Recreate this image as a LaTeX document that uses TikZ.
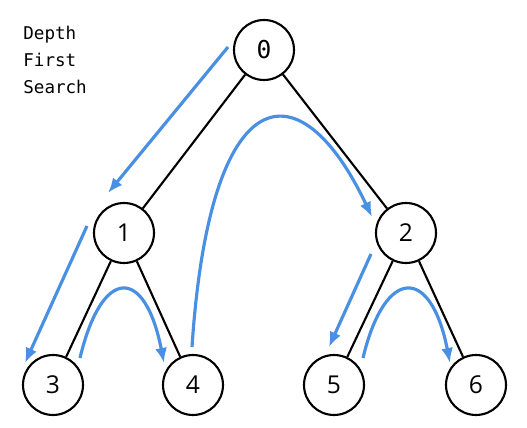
\documentclass[tikz,border=0pt]{standalone}
\usepackage{fontspec}
\setsansfont{Open Sans}
\setmonofont{DejaVu Sans Mono}
\usetikzlibrary{arrows.meta}
\definecolor{walkblue}{RGB}{74,144,226}
\tikzset{
  vertex/.style={circle, draw, line width=1.2pt, minimum size=1.2cm, inner sep=0pt, font=\sffamily\fontsize{14}{16}\selectfont},
  tree/.style={line width=1.2pt},
  walk/.style={walkblue, line width=1.8pt, -{Latex[length=0.3cm, width=0.24cm]}}
}
\begin{document}
\begin{tikzpicture}[x=0.02cm, y=-0.02cm]
\useasboundingbox (0,0) rectangle (527,428);
% Titulo
\node[anchor=north west, inner sep=0pt, align=left, font=\ttfamily\fontsize{10}{15.3}\selectfont] (title) at (23,26) {Depth\\First\\Search};
% Nodos del arbol
\node[vertex, font=\ttfamily\fontsize{14}{16}\selectfont] (n0) at (264,50) {0};
\node[vertex] (n1) at (124,233) {1};
\node[vertex] (n2) at (406,233) {2};
\node[vertex] (n3) at (53,385) {3};
\node[vertex] (n4) at (193,385) {4};
\node[vertex] (n5) at (334,385) {5};
\node[vertex] (n6) at (476,385) {6};
% Aristas
\draw[tree] (n0) -- (n1);
\draw[tree] (n0) -- (n2);
\draw[tree] (n1) -- (n3);
\draw[tree] (n1) -- (n4);
\draw[tree] (n2) -- (n5);
\draw[tree] (n2) -- (n6);
% Recorrido
\coordinate (a0) at (228,47);
\coordinate (a1) at (108,193);
\coordinate (b0) at (87,226);
\coordinate (b1) at (25,363);
\coordinate (c0) at (80,358);
\coordinate (c1) at (164,363);
\coordinate (d0) at (192,347);
\coordinate (d1) at (372,217);
\coordinate (e0) at (371,254);
\coordinate (e1) at (329,347);
\coordinate (f0) at (363,358);
\coordinate (f1) at (450,363);
\draw[walk] (a0) -- (a1);
\draw[walk] (b0) -- (b1);
\draw[walk] (c0) .. controls (102,266) and (145,266) .. (c1);
\draw[walk] (d0) .. controls (210,75) and (300,65) .. (d1);
\draw[walk] (e0) -- (e1);
\draw[walk] (f0) .. controls (385,266) and (431,266) .. (f1);
\end{tikzpicture}
\end{document}
